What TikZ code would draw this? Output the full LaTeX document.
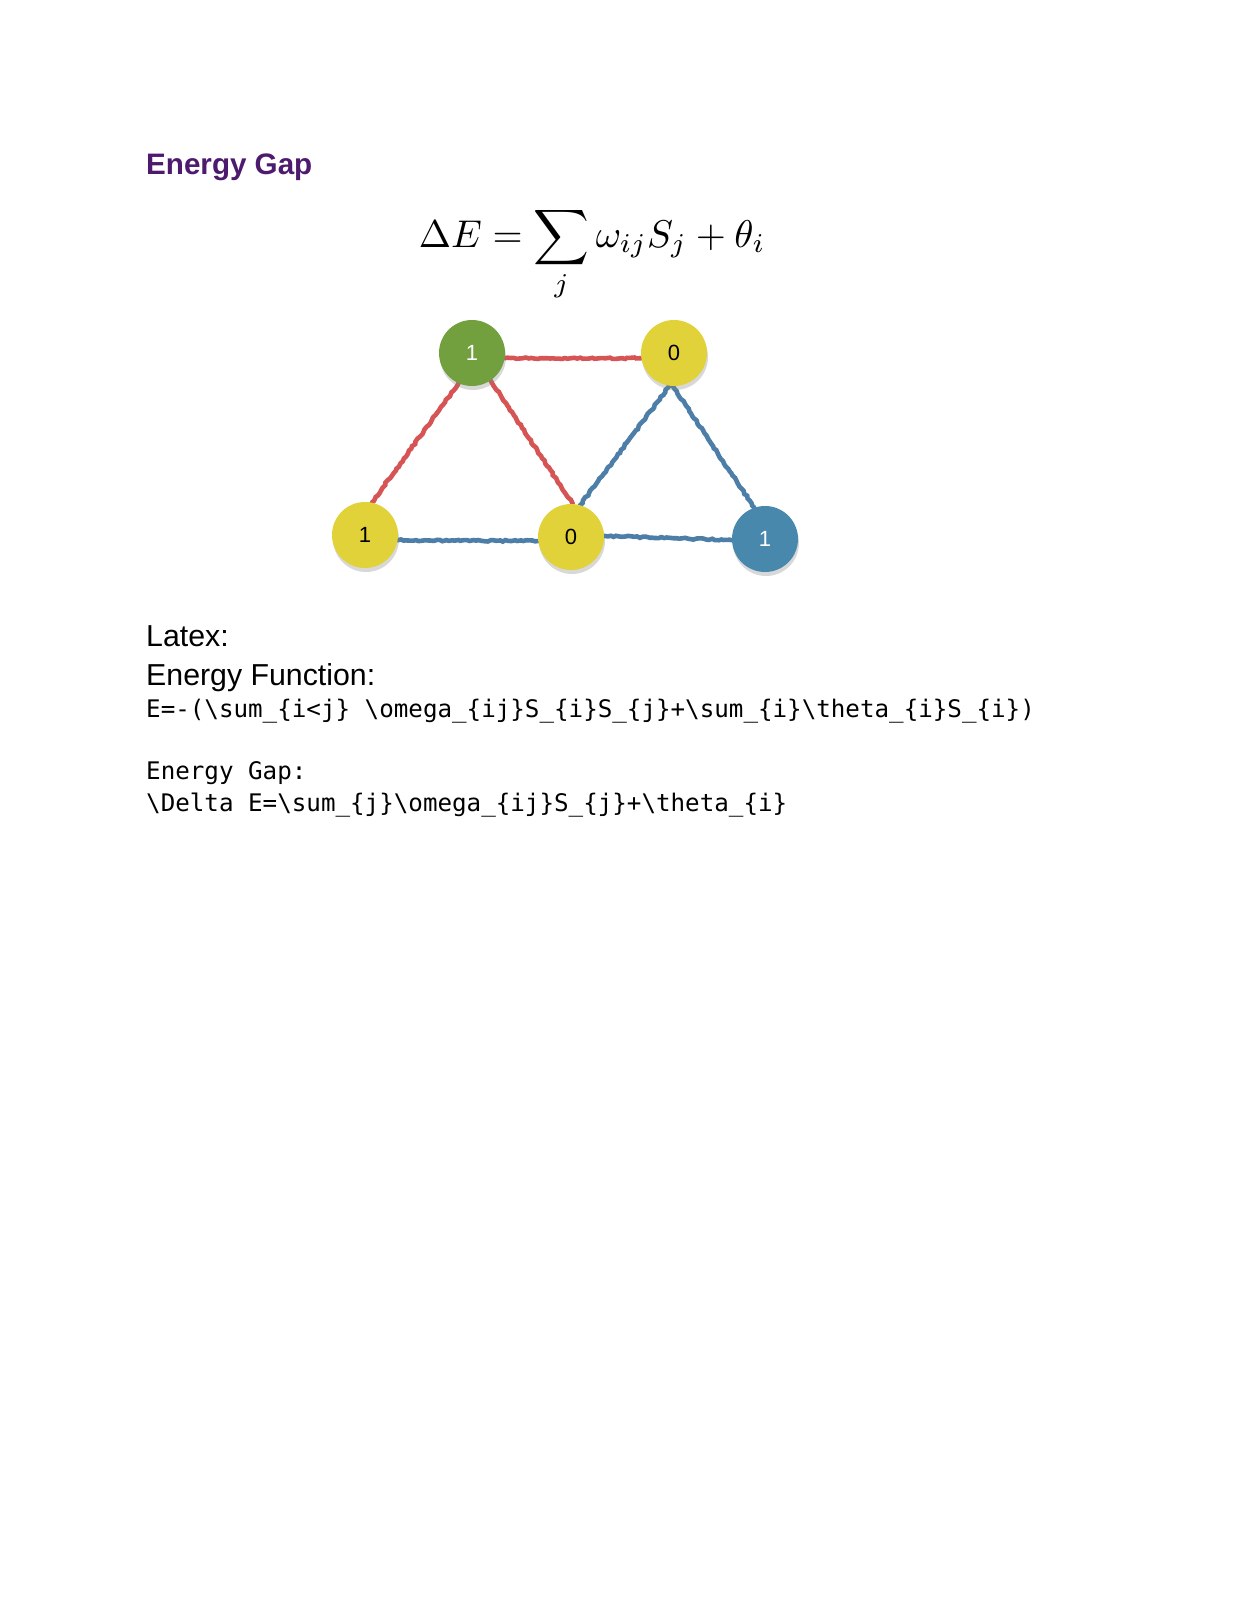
\documentclass[tikz,border=0pt]{standalone}
\usepackage{fontspec}
\setmainfont{Liberation Sans}
\newfontfamily\monof{DejaVu Sans Mono}
\usetikzlibrary{shadows,decorations.pathmorphing}
\pgfdeclarelayer{paper}
\pgfdeclarelayer{background}
\pgfsetlayers{paper,background,main}
\definecolor{titlepurple}{RGB}{78,26,110}
\definecolor{edgered}{RGB}{214,84,84}
\definecolor{edgeblue}{RGB}{76,126,168}
\definecolor{nodegreen}{RGB}{114,160,62}
\definecolor{nodeyellow}{RGB}{226,210,58}
\definecolor{nodeblue}{RGB}{72,136,172}
\tikzset{
  unit/.style={circle, minimum size=66pt, inner sep=0pt,
    font=\fontsize{22}{26}\selectfont,
    drop shadow={shadow xshift=1pt, shadow yshift=-4pt, opacity=0.3, fill=black!50}},
  chalk/.style={line width=4.6pt, line cap=round,
    decorate, decoration={random steps, segment length=3pt, amplitude=0.8pt}},
  redge/.style={chalk, draw=edgered},
  bedge/.style={chalk, draw=edgeblue},
  txt/.style={anchor=base west, inner sep=0pt},
  sanstxt/.style={txt, font=\fontsize{30.3}{34}\selectfont},
  monotxt/.style={txt, font=\monof\fontsize{24.2}{28}\selectfont},
}
\begin{document}
\begin{tikzpicture}[x=1pt,y=-1pt]
\useasboundingbox (0,0) rectangle (1236,1600);
\begin{pgfonlayer}{paper}
\fill[white] (0,0) rectangle (1236,1600);
\end{pgfonlayer}

\node[txt, font=\bfseries\fontsize{29.6}{34}\selectfont, text=titlepurple] (title) at (146,174) {Energy Gap};
\node[txt, scale=3.87] (formula) at (418,247) {$\displaystyle \Delta E=\sum_j \omega_{ij}S_j+\theta_i$};

\node[unit, fill=nodegreen, text=white] (g) at (472,353) {1};
\node[unit, fill=nodeyellow, text=black] (ty) at (674,353) {0};
\node[unit, fill=nodeyellow, text=black] (ly) at (365,535) {1};
\node[unit, fill=nodeyellow, text=black] (my) at (571,537) {0};
\node[unit, fill=nodeblue, text=white] (b) at (765,539) {1};

\begin{pgfonlayer}{background}
\draw[redge] (g.-9) -- (ty.189);
\draw[redge] (g.-114) -- (ly.78);
\draw[redge] (g.-56) -- (my.87);
\draw[bedge] (my.74) -- (ty.-98);
\draw[bedge] (ty.-92) -- (b.109);
\draw[bedge] (ly.-9) -- (my.187);
\draw[bedge] (my.2) -- (b.182);
\end{pgfonlayer}

\node[sanstxt] (latex) at (146,646) {Latex:};
\node[sanstxt] (efun) at (146,685) {Energy Function:};
\node[monotxt] (eq1) at (146,717) {E=-(\textbackslash sum\_\{i<j\} \textbackslash omega\_\{ij\}S\_\{i\}S\_\{j\}+\textbackslash sum\_\{i\}\textbackslash theta\_\{i\}S\_\{i\})};
\node[monotxt] (egap) at (146,779) {Energy Gap:};
\node[monotxt] (eq2) at (146,811) {\textbackslash Delta E=\textbackslash sum\_\{j\}\textbackslash omega\_\{ij\}S\_\{j\}+\textbackslash theta\_\{i\}};
\end{tikzpicture}
\end{document}
